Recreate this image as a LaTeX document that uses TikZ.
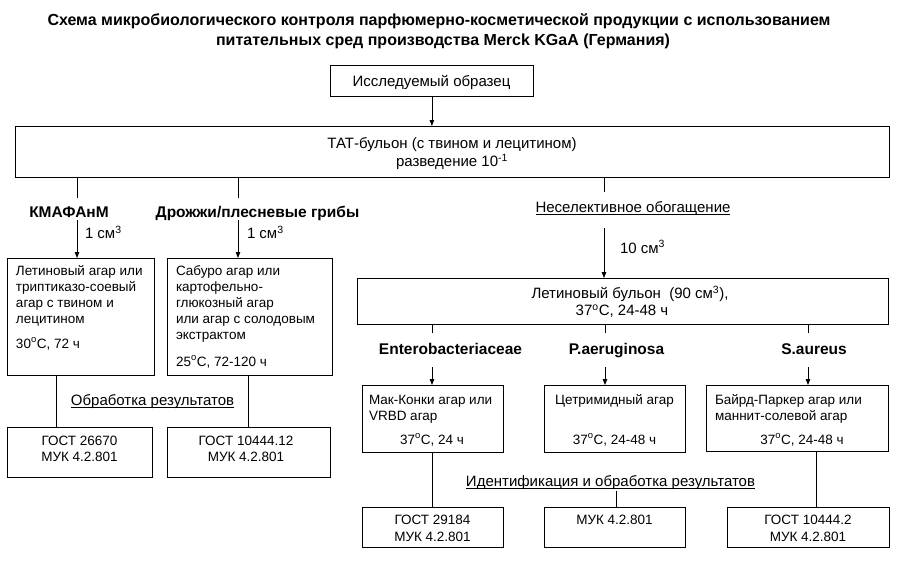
\documentclass[tikz,border=0pt]{standalone}
\usepackage{fontspec}
\setmainfont{Liberation Sans}
\usetikzlibrary{arrows.meta}
\newcommand\myS{\fontsize{13.5}{16}\selectfont}
\newcommand\myM{\fontsize{15}{18}\selectfont}
\newcommand\myB{\bfseries\fontsize{15.5}{18}\selectfont}
\newcommand\myT{\bfseries\fontsize{16}{20}\selectfont}
\begin{document}
\begin{tikzpicture}[x=1pt,y=-1pt,
 box/.style={draw, line width=0.8pt, inner sep=0, anchor=north west},
 txt/.style={inner sep=0, outer sep=0},
 ln/.style={line width=0.8pt},
 arr/.style={line width=0.8pt, -{Triangle[length=6pt,width=4.5pt]}},
 ul/.style={line width=0.9pt}]
\fill[white] (0,0) rectangle (900,568);
\useasboundingbox (0,0) rectangle (900,568);
% title
\node[txt, anchor=base, font=\myT] (title1) at (439,25) {Схема микробиологического контроля парфюмерно-косметической продукции с использованием};
\node[txt, anchor=base, font=\myT] (title2) at (443,45) {питательных сред производства Merck KGaA (Германия)};
% boxes
\node[box, minimum width=203pt, minimum height=31pt] (S) at (330,65) {};
\node[box, minimum width=874pt, minimum height=51pt] (TAT) at (15,126) {};
\node[box, minimum width=147pt, minimum height=117pt] (A) at (7,258) {};
\node[box, minimum width=165pt, minimum height=117pt] (B) at (167,258) {};
\node[box, minimum width=145pt, minimum height=50pt] (GA) at (7,427) {};
\node[box, minimum width=163pt, minimum height=50pt] (GB) at (167,427) {};
\node[box, minimum width=531pt, minimum height=46pt] (L) at (357,278) {};
\node[box, minimum width=141pt, minimum height=67pt] (M) at (362,385) {};
\node[box, minimum width=141pt, minimum height=67pt] (C) at (544,385) {};
\node[box, minimum width=182pt, minimum height=66pt] (Bp) at (706,385) {};
\node[box, minimum width=141pt, minimum height=40pt] (GM) at (362,507) {};
\node[box, minimum width=141pt, minimum height=40pt] (GC) at (544,507) {};
\node[box, minimum width=162pt, minimum height=40pt] (GBp) at (727,507) {};
% box texts
\node[txt, anchor=base, font=\myM] (St) at (431.5,86) {Исследуемый образец};
\node[txt, anchor=base, font=\myM] (TATt1) at (452,148.5) {ТАТ-бульон (с твином и лецитином)};
\node[txt, anchor=base, font=\myM] (TATt2) at (452,166.5) {разведение 10\textsuperscript{-1}};
\node[txt, anchor=north west, align=left, font=\myS] (At) at (16,263.8) {\strut Летиновый агар или\\триптиказо-соевый\\агар с твином и\\лецитином};
\node[txt, anchor=base west, font=\myS] (Atemp) at (16,348) {30\textsuperscript{o}C, 72 ч};
\node[txt, anchor=north west, align=left, font=\myS] (Bt) at (176,263.8) {\strut Сабуро агар или\\картофельно-\\глюкозный агар\\или агар с солодовым\\экстрактом};
\node[txt, anchor=base west, font=\myS] (Btemp) at (176,366) {25\textsuperscript{o}C, 72-120 ч};
\node[txt, anchor=base, font=\myS] (GAt1) at (79.5,445) {ГОСТ 26670};
\node[txt, anchor=base, font=\myS] (GAt2) at (79.5,461) {МУК 4.2.801};
\node[txt, anchor=base, font=\myS] (GBt1) at (246,445) {ГОСТ 10444.12};
\node[txt, anchor=base, font=\myS] (GBt2) at (246,461) {МУК 4.2.801};
\node[txt, anchor=base, font=\myM] (Lt1) at (630,298.5) {Летиновый бульон\ \ (90 см\textsuperscript{3}),};
\node[txt, anchor=base, font=\myM] (Lt2) at (622,315.5) {37\textsuperscript{o}C, 24-48 ч};
\node[txt, anchor=north west, align=left, font=\myS] (Mt) at (369,392.8) {\strut Мак-Конки агар или\\VRBD агар};
\node[txt, anchor=base, font=\myS] (Mtemp) at (432,444) {37\textsuperscript{o}C, 24 ч};
\node[txt, anchor=base, font=\myS] (Ct) at (614.5,404) {Цетримидный агар};
\node[txt, anchor=base, font=\myS] (Ctemp) at (614.5,444) {37\textsuperscript{o}C, 24-48 ч};
\node[txt, anchor=north west, align=left, font=\myS] (Bpt) at (715,392.8) {\strut Байрд-Паркер агар или\\маннит-солевой агар};
\node[txt, anchor=base, font=\myS] (Bptemp) at (802,444) {37\textsuperscript{o}C, 24-48 ч};
\node[txt, anchor=base, font=\myS] (GMt1) at (432.5,524) {ГОСТ 29184};
\node[txt, anchor=base, font=\myS] (GMt2) at (432.5,541) {МУК 4.2.801};
\node[txt, anchor=base, font=\myS] (GCt) at (614.5,524) {МУК 4.2.801};
\node[txt, anchor=base, font=\myS] (GBpt1) at (808,524) {ГОСТ 10444.2};
\node[txt, anchor=base, font=\myS] (GBpt2) at (808,541) {МУК 4.2.801};
% labels
\node[txt, anchor=base, font=\myB] (km) at (69,217.5) {КМАФАнМ};
\node[txt, anchor=base, font=\myB] (dr) at (257.5,217.5) {Дрожжи/плесневые грибы};
\node[txt, anchor=base, font=\myM] (ns) at (633,212.5) {Неселективное обогащение};
\node[txt, anchor=base west, font=\myM] (v1) at (85,238.5) {1 см\textsuperscript{3}};
\node[txt, anchor=base west, font=\myM] (v2) at (247,238.5) {1 см\textsuperscript{3}};
\node[txt, anchor=base west, font=\myM] (v3) at (620,253) {10 см\textsuperscript{3}};
\node[txt, anchor=base, font=\myB] (en) at (450.5,354.5) {Enterobacteriaceae};
\node[txt, anchor=base, font=\myB] (pa) at (616.5,354.5) {P.aeruginosa};
\node[txt, anchor=base, font=\myB] (sa) at (814,354.5) {S.aureus};
\node[txt, anchor=base, font=\myM] (ob) at (152.5,405) {Обработка результатов};
\node[txt, anchor=base, font=\myM] (id) at (610.5,486) {Идентификация и обработка результатов};
% underlines
\draw[ul] ([yshift=-2pt]ns.base west) -- ([yshift=-2pt]ns.base east);
\draw[ul] ([yshift=-2pt]ob.base west) -- ([yshift=-2pt]ob.base east);
\draw[ul] ([yshift=-2pt]id.base west) -- ([yshift=-2pt]id.base east);
% connectors
\draw[arr] (S.south) -- (S.south |- TAT.north);
\coordinate (k1) at (77,198); \draw[ln] (k1 |- TAT.south) -- (k1);
\coordinate (k2) at (77,220); \draw[arr] (k2) -- (k2 |- A.north);
\coordinate (d1) at (238,198); \draw[ln] (d1 |- TAT.south) -- (d1);
\coordinate (d2) at (238,220); \draw[arr] (d2) -- (d2 |- B.north);
\coordinate (n1) at (604,192); \draw[ln] (n1 |- TAT.south) -- (n1);
\coordinate (n2) at (604,228); \draw[arr] (n2) -- (n2 |- L.north);
\coordinate (a1) at (56,0); \draw[ln] (a1 |- A.south) -- (a1 |- GA.north);
\coordinate (b1) at (248,0); \draw[ln] (b1 |- B.south) -- (b1 |- GB.north);
\coordinate (e1) at (432,333); \draw[ln] (e1 |- L.south) -- (e1);
\coordinate (p1) at (605,333); \draw[ln] (p1 |- L.south) -- (p1);
\coordinate (q1) at (808,333); \draw[ln] (q1 |- L.south) -- (q1);
\coordinate (e2) at (432,367); \draw[arr] (e2) -- (e2 |- M.north);
\coordinate (p2) at (605,367); \draw[arr] (p2) -- (p2 |- C.north);
\coordinate (q2) at (808,367); \draw[arr] (q2) -- (q2 |- Bp.north);
\coordinate (m1) at (432,0); \draw[ln] (m1 |- M.south) -- (m1 |- GM.north);
\coordinate (s1) at (816,0); \draw[ln] (s1 |- Bp.south) -- (s1 |- GBp.north);
\coordinate (i1) at (616,491); \draw[ln] (i1) -- (i1 |- GC.north);
\end{tikzpicture}
\end{document}
